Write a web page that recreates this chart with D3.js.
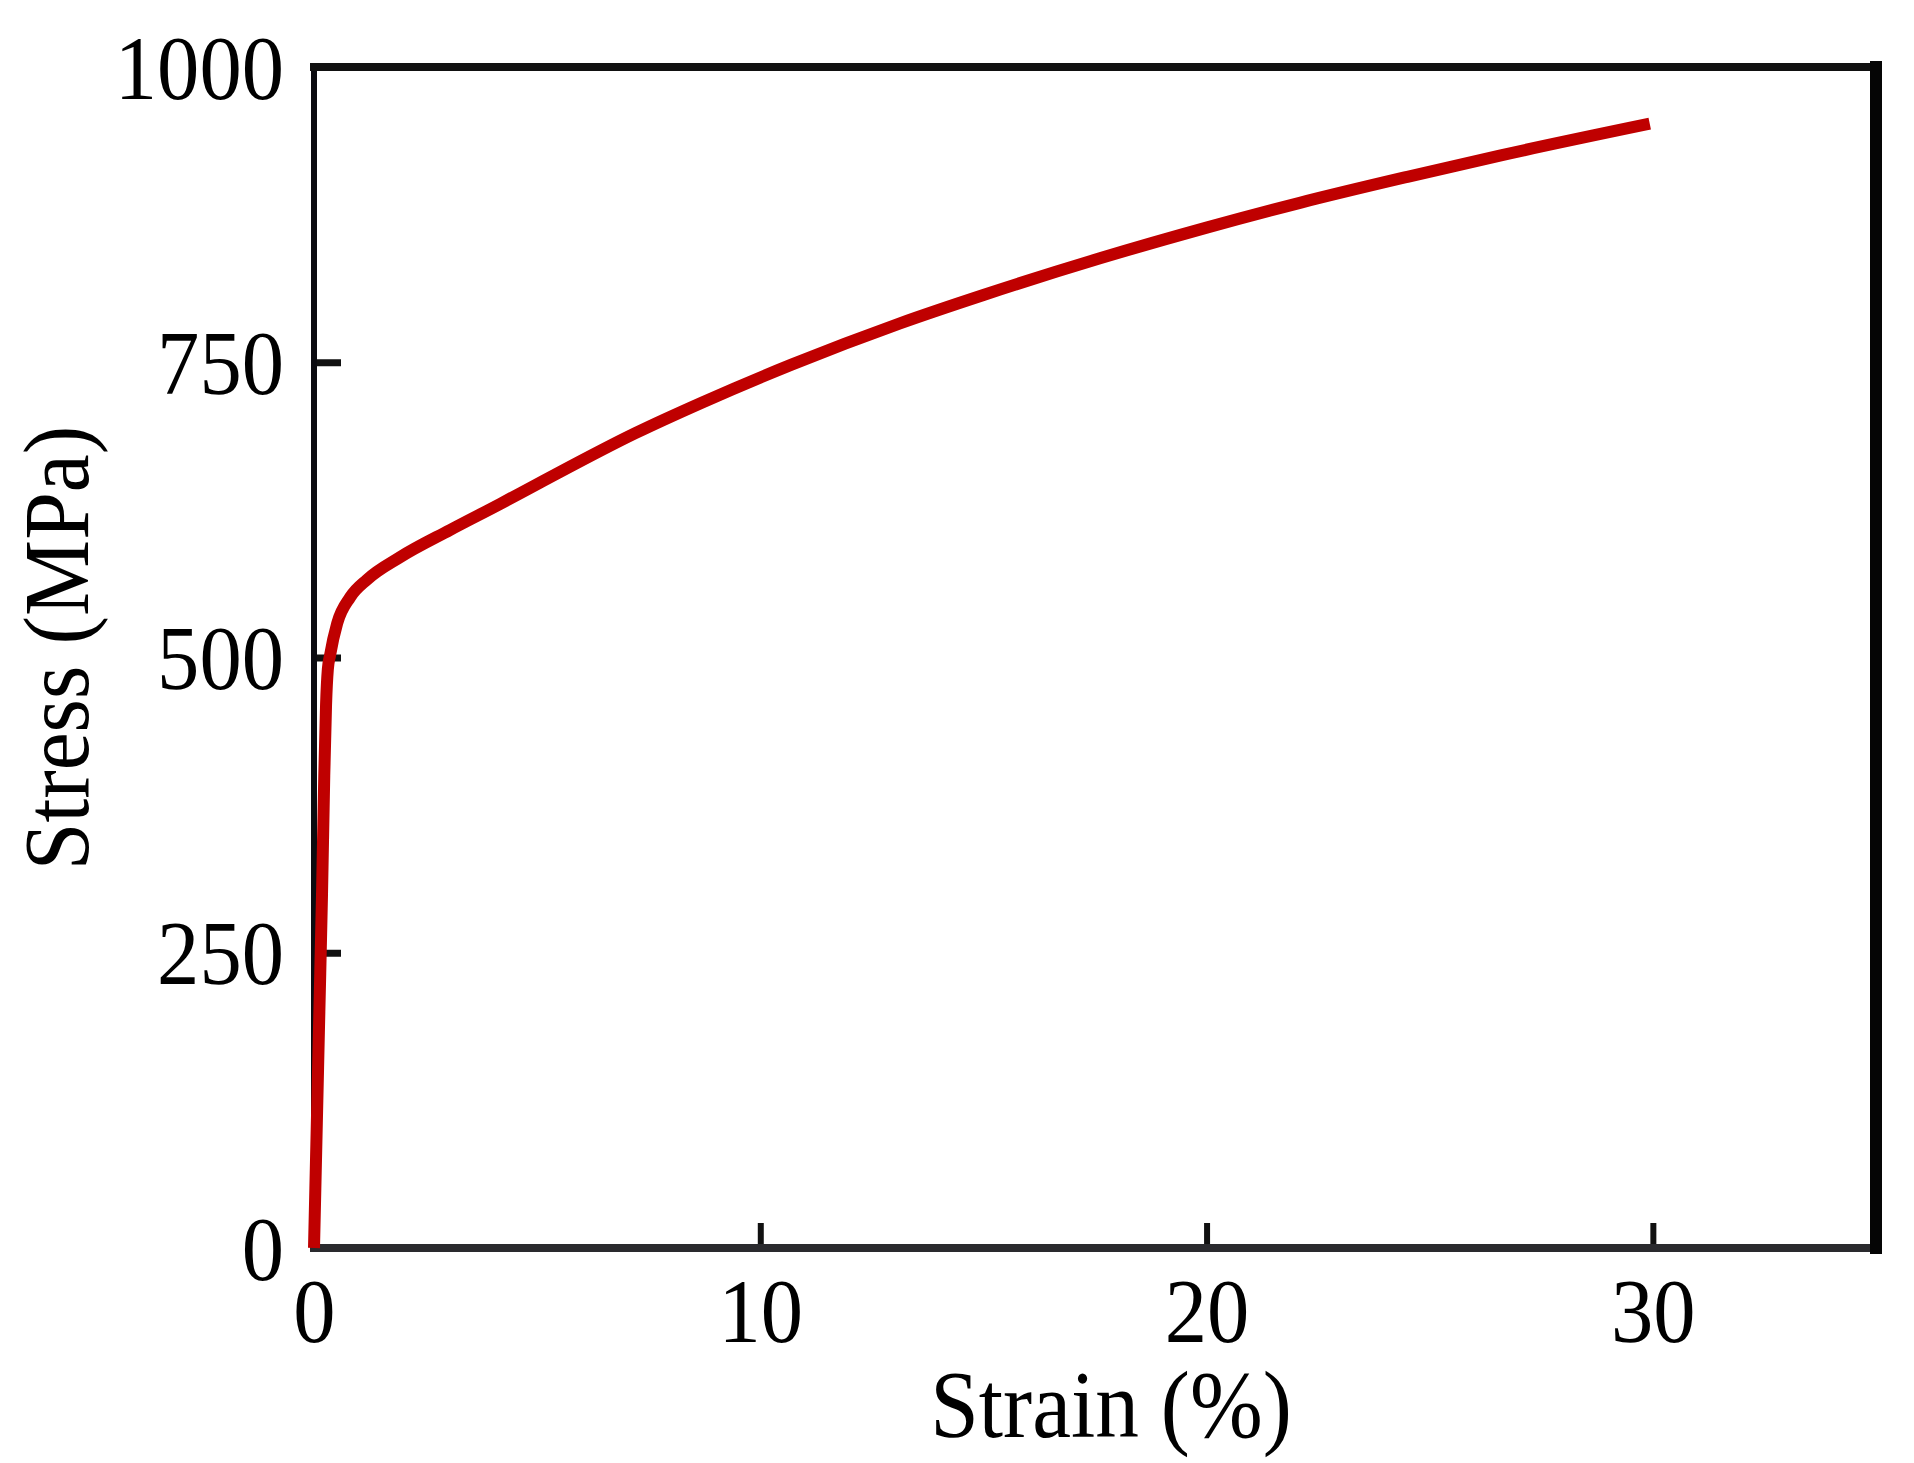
<!DOCTYPE html>
<html>
<head>
<meta charset="utf-8">
<script src="https://cdn.jsdelivr.net/npm/d3@7"></script>
<style>
html,body{margin:0;padding:0;background:#fff;}
svg{display:block;}
</style>
</head>
<body>
<script>
// Data (strain %, stress MPa)
const strain = [0, 0.06, 0.12, 0.18, 0.23, 0.27, 0.31, 0.36, 0.52, 0.81, 1.19, 1.93, 3.05, 4.17, 5.06, 7.2, 8.7, 10.7, 13.13, 15.0, 17.61, 20.0, 22.09, 24.5, 26.57, 29.93];
const stress = [0, 100, 200, 300, 400, 460, 490, 502, 529, 551, 566, 585, 608, 630, 648, 690, 716, 748, 783, 807, 838, 864, 885, 907, 925, 952];
const xTicks = [0, 10, 20, 30];
const yTicks = [0, 250, 500, 750, 1000];
const xTitle = "Strain (%)";
const yTitle = "Stress (MPa)";

const W = 1914, H = 1463;
const mLeft = 314, mRight = 1876, mTop = 67, mBottom = 1248;
const FONT = "'Liberation Serif','Times New Roman',serif";
const SX = 0.92;

const svg = d3.select("body").append("svg").attr("width", W).attr("height", H);

const x = d3.scaleLinear().domain([0, 35]).range([mLeft, mRight]);
const y = d3.scaleLinear().domain([0, 1000]).range([mBottom, mTop]);

// Bottom axis (ticks inward)
const gx = svg.append("g").attr("transform", `translate(0,${mBottom})`)
  .call(d3.axisBottom(x).tickValues(xTicks).tickSizeInner(-25).tickSizeOuter(0).tickPadding(58).tickFormat(d3.format("d")));
gx.select(".domain").remove();
gx.selectAll(".tick line").attr("stroke", "#111").attr("stroke-width", 6);
gx.selectAll(".tick text")
  .attr("font-family", FONT).attr("font-size", 92).attr("fill", "#000")
  .attr("y", 94).attr("dy", 0)
  .attr("transform", `scale(${SX},1)`);

// Left axis (ticks inward)
const gy = svg.append("g").attr("transform", `translate(${mLeft},0)`)
  .call(d3.axisLeft(y).tickValues(yTicks).tickSizeInner(-27).tickSizeOuter(0).tickPadding(30).tickFormat(d3.format("d")));
gy.select(".domain").remove();
gy.selectAll(".tick line").attr("stroke", "#111").attr("stroke-width", 7);
gy.selectAll(".tick text")
  .attr("font-family", FONT).attr("font-size", 92).attr("fill", "#000")
  .attr("dy", 31)
  .attr("transform", `translate(-30,0) scale(${SX},1) translate(30,0)`);

// Frame
const frame = svg.append("g").attr("stroke-linecap", "square");
frame.append("line").attr("x1", mLeft).attr("x2", mLeft).attr("y1", mTop).attr("y2", mBottom)
  .attr("stroke", "#0b0b10").attr("stroke-width", 6);
frame.append("line").attr("x1", mLeft).attr("x2", mRight).attr("y1", mTop).attr("y2", mTop)
  .attr("stroke", "#111").attr("stroke-width", 8);
frame.append("line").attr("x1", mLeft).attr("x2", mRight).attr("y1", mBottom).attr("y2", mBottom)
  .attr("stroke", "#2a2a2e").attr("stroke-width", 8);
frame.append("line").attr("x1", mRight).attr("x2", mRight).attr("y1", mTop).attr("y2", mBottom)
  .attr("stroke", "#050505").attr("stroke-width", 12);

// Curve
const data = strain.map((s, i) => ({s, v: stress[i]}));
const line = d3.line().x(d => x(d.s)).y(d => y(d.v)).curve(d3.curveMonotoneX);
svg.append("path").datum(data).attr("d", line)
  .attr("fill", "none").attr("stroke", "#bf0000").attr("stroke-width", 12)
  .attr("stroke-linejoin", "round").attr("stroke-linecap", "butt");

// Titles
svg.append("text").attr("font-family", FONT).attr("font-size", 95).attr("fill", "#000")
  .attr("text-anchor", "middle")
  .attr("transform", `translate(1111,1437) scale(${SX},1)`).text(xTitle);
svg.append("text").attr("font-family", FONT).attr("font-size", 93).attr("fill", "#000")
  .attr("text-anchor", "middle")
  .attr("transform", `translate(88,648) rotate(-90) scale(${SX},1)`).text(yTitle);
</script>
</body>
</html>
